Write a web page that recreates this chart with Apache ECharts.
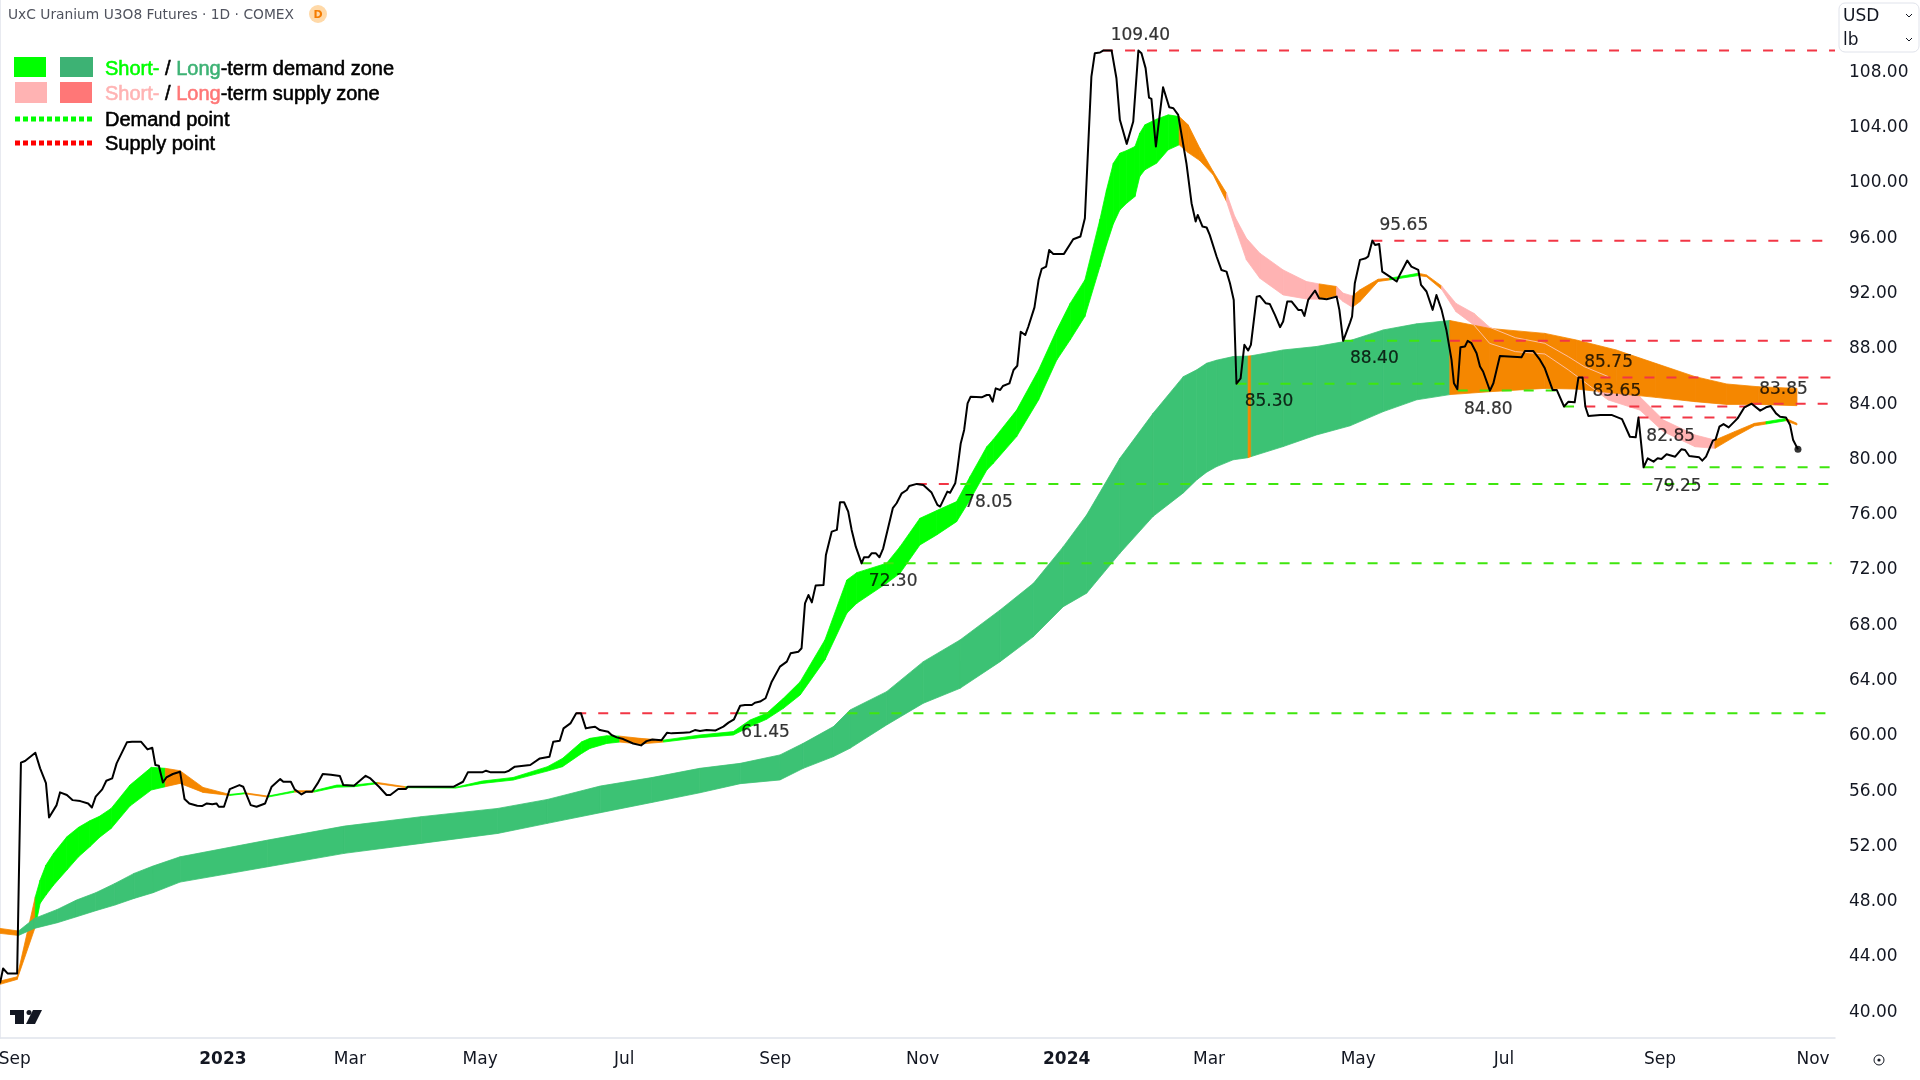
<!DOCTYPE html>
<html><head><meta charset="utf-8">
<style>html,body{margin:0;padding:0;background:#fff}#c{width:1920px;height:1080px}</style>
<script src="https://cdn.jsdelivr.net/npm/echarts@6/dist/echarts.min.js"></script>
</head><body><div id="c"></div>
<script>
// x values are trading-session numbers counted from the left edge of the chart
const axisSessions = [4.3,65,102,140,182,226,269,311,352.5,396,438.5,484,528.6];
const axisMonths = ['Sep','2023','Mar','May','Jul','Sep','Nov','2024','Mar','May','Jul','Sep','Nov'];
const priceTicks = [40,44,48,52,56,60,64,68,72,76,80,84,88,92,96,100,104,108];

const priceSession = [0,.9,2.2,5,6.1,7.3,10.3,11.7,13.4,14.3,16.5,17.5,19.5,21.2,23.4,25.7,26.8,27.9,29.8,31,32.7,34,37,38.5,41.1,43,44.4,45.3,46.3,47.5,48.5,50.4,52.5,53.8,55.2,57.5,58.9,60.3,61.9,63.1,63.8,65.3,67,69.8,70.9,73.1,74.8,77.3,79.2,81.7,82.6,84.8,85.9,87.9,89.3,91,92.6,94.1,96.5,99.1,100.1,103.2,106.6,108,110.5,112.7,113.8,116.1,118.3,118.9,132.3,135,136.4,140.6,141.7,143.1,147.1,148.4,150.1,154.6,157.4,160.2,161.3,163.2,164.3,166.3,168,169.4,170.8,172,173.5,174.9,177.3,178.3,179.8,181.7,184.6,186.9,188.5,190.2,192.9,194.5,195.8,199.2,201.2,202.6,204.1,206,208.5,210.9,212.4,214,215.8,217.2,219.2,220.1,221.6,223.2,225,227.4,229.4,230.5,232.8,233.7,234.7,235.7,236.7,237.8,240.1,240.8,242.5,244,244.9,246.1,247.3,248.3,249.5,251.2,251.9,253.2,254.1,255.4,256.4,257.5,260.3,261.4,262.9,264.4,265.1,267.3,269.2,271.6,273.3,274.1,276.2,277,278.5,279.1,280.1,281.1,282.1,283,286.2,287.7,288.5,289.4,290.3,291.6,292.4,294.3,295.5,296.6,297.6,298.9,299.8,301.6,302.8,303.7,305,305.9,307.1,310.2,312.9,315,316.3,318.2,319.2,320.7,321.6,324.1,325.5,326.5,328.5,330.4,331.9,332.8,334,335,335.7,337,339.1,340.9,342.1,343.5,345.9,347.4,348.6,349.2,350.6,351.8,352.7,354.7,356.1,357.6,358.6,359.7,360.5,361.7,362.8,363.9,364.7,366.4,367.3,369,370.2,371.7,373.2,374.1,375.3,376.6,378.5,379.5,380.3,381.4,383.4,384.6,386.8,389.7,390.5,391.6,393.6,394.2,395,396.5,398.2,398.9,400.1,400.9,402.1,403,405.2,407.2,408.1,410.3,411.5,413.5,414.3,415.9,417.7,418.8,420.3,421.7,423.2,423.9,424.9,425.8,427.1,427.9,429,430.5,431.5,432.4,434.4,435.4,437.3,443.6,444.6,447,449,450.4,452.7,453.9,456,457.3,459.1,460.2,461.4,462.2,463.1,466.6,470,472.9,475.2,476.9,477.7,479.2,480.4,482.1,483.3,484.4,485.9,488.4,490.2,491.3,492.5,495.4,496.3,497.4,499.4,500.2,501.3,502.5,504,506.6,508.6,510.7,513.2,514.9,516.3,517.8,519,520.7,521.9,522.8,524.2];
const priceValue = [41.91,42.99,42.63,42.63,57.88,58,58.6,57.47,56.4,53.92,54.81,55.73,55.54,55.17,55.1,54.93,54.64,55.42,55.95,56.57,56.74,57.83,59.35,59.4,59.4,58.84,58.96,57.71,57.66,56.45,56.81,57.06,57.22,55.25,54.93,54.76,54.74,54.93,54.88,54.93,54.69,54.69,55.97,56.26,56.14,54.81,54.69,54.93,56.14,56.69,56.5,56.5,55.95,55.58,55.78,55.78,56.38,57.06,57.01,56.91,56.26,56.21,56.93,56.74,56.14,55.54,55.54,55.97,55.97,56.14,56.14,56.5,57.18,57.18,57.3,57.18,57.18,57.3,57.59,57.71,58.19,58.31,59.39,59.47,60.36,60.72,61.45,61.45,60.36,60.43,60.48,60.24,60.12,59.88,59.71,59.59,59.27,59.13,59.44,59.56,59.51,60.05,60,60.05,60.09,60.24,60.17,60.24,60.2,60.49,60.78,61.02,62,62.05,62.05,62.22,62.3,62.54,63.74,64.83,65.19,65.79,65.91,66.16,69.41,70.01,69.48,70.69,70.74,72.91,74.6,74.72,76.72,76.72,76.04,74.72,73.51,72.3,72.74,72.74,73.03,73.03,72.74,73.39,76.29,76.65,77.37,77.61,77.9,78.05,77.97,77.42,76.53,76.41,77.49,77.41,78.09,79.05,80.98,81.95,83.88,84.36,84.31,84.48,84.48,84,84.96,84.84,85.13,85.32,86.29,86.6,89.06,88.82,89.42,90.82,92.8,93.6,93.77,94.97,94.69,94.69,95.75,95.95,97.27,107.52,109.21,109.26,109.4,109.4,107.4,104.39,102.65,104.27,109.4,109.21,108.13,106,105.91,102.46,106.75,105.3,105.23,104.75,101.25,98.36,97.03,97.51,96.67,96.6,96.07,94.5,93.53,93.41,92.57,91.36,85.3,85.69,88.11,87.7,88.11,91.6,91.65,91.12,91.07,90.28,89.39,89.8,91.24,91.24,90.64,90.64,90.2,91.36,92.04,91.48,91.41,91.6,90.64,88.4,89.72,90.16,92.57,94.26,94.38,94.5,95.65,95.34,95.41,93.41,93.05,92.69,93.17,94.21,93.77,93.53,92.45,91.97,90.64,91.72,90.64,89.19,87.02,85.33,84.9,87.94,87.99,88.4,88.23,87.5,86.54,86.18,84.8,85.33,87.31,87.21,87.67,87.67,87.02,86.41,84.84,84.84,83.65,84,83.95,85.75,85.75,83.65,82.96,83.03,83.03,82.74,81.46,81.42,82.85,79.25,79.9,79.66,79.9,79.85,80.19,80.02,80.55,80.5,80.07,79.97,79.73,80.02,81.18,81.27,82.19,82.38,82.14,82.79,83.59,83.85,83.35,83.59,83.68,83.15,82.91,82.86,82.31,81.22,80.55];

// short-term zone edges
const shortSession = [0,5,10.3,11.7,13.4,15.6,19.5,22.9,26.2,29,32.4,37.9,44.1,48.2,52.5,59.2,67,71.4,78.1,85.9,87,91.5,98.2,103.2,110,118.3,132.8,140.6,149.6,159.6,164,169.6,172,176.9,180.7,186.6,193.4,204,213.8,218.7,223.5,228.4,233.3,240.5,246.9,249.8,258.5,262.4,268.2,273.1,278.9,282.8,287.7,289.6,296.4,302.8,308.1,312,316.3,320.7,322.6,324.6,326.5,328.5,330.9,332.3,333.8,337.2,340.6,343.8,346.4,349.8,353.7,357.6,360,363.4,367.3,374.1,380.9,384.6,389.7,391.6,394.3,396.5,401.8,405.2,413.5,415.9,420.3,424.5,429.7,434.3,441.8,450.4,457.3,461.9,468.9,478.1,485,494.2,500,505.7,511.5,514.9,520.7,523.9];
const shortUpper = [42.08,42.39,48.18,49.39,50.47,51.31,52.52,53.2,53.68,54,54.57,56.26,57.54,57.47,57.3,56.09,55.58,55.7,55.46,55.85,55.85,55.85,56.26,56.26,56.45,56.14,56.1,56.55,56.81,57.59,58.19,59.39,59.64,59.83,59.8,59.64,59.51,59.88,60.13,60.97,61.45,62.54,63.74,66.76,71.1,71.63,72.31,73.51,75.56,76.12,76.77,78.57,80.74,81.27,83.39,86.29,89.18,91.11,92.81,97.2,99.32,101.25,101.98,102.17,102.46,103.42,104.03,104.44,104.75,104.63,104.03,102.34,100.65,99.08,97.39,95.82,94.74,93.53,92.69,92.52,92.33,91.85,91.65,92.09,92.86,92.93,93.29,93.17,92.37,91.11,90.39,89.38,88.63,88.22,87.25,86.53,85.81,84.36,82.67,81.59,81.22,81.83,82.43,82.55,82.79,82.43];
const shortLower = [41.84,42.2,46,47.7,48.3,49.02,50.11,51.07,51.8,52.47,53.12,54.74,55.9,56.14,56.38,55.73,55.51,55.63,55.39,55.75,55.75,55.75,56.11,56.14,56.36,56.07,56.04,56.38,56.62,57.27,57.59,58.55,58.91,59.27,59.37,59.23,59.37,59.69,59.88,60.49,61.02,61.81,62.78,65.31,68.69,69.41,70.86,71.58,73.63,74.36,75.32,76.88,79.05,79.54,81.47,84.12,87.01,88.46,90.16,93.77,95.34,96.86,97.87,98.36,98.84,100.29,100.77,101.25,102.22,102.58,102.02,101.44,100.41,98.48,96.67,94.26,92.93,91.72,91.43,91.41,91.65,91.24,90.83,91.24,92.69,92.81,93.12,93.04,92.13,90.51,89.55,88.22,87.62,87.45,86.29,85.44,84.12,83.39,81.83,80.74,80.62,81.46,82.24,82.38,82.62,82.31];
// state of the short-term zone from each session on: d demand, n neutral, s supply
const shortRunFrom = [0,10.3,48.2,67,71.4,78.1,85.9,91.5,110,118.3,180.7,193.4,343.8,357.6,384.6,389.7,394.3,405.2,413.5,420.3,500,514.9,520.7];
const shortRunState = ['n','d','n','d','n','d','n','d','n','d','n','d','n','s','n','s','n','d','n','s','n','d','n'];

// long-term zone edges
const longSession = [0,5.4,10,16.7,22.3,27.9,33.5,39.1,44.6,52.5,78.1,100.4,122.8,145.1,159.6,175,190,204,215.8,227.4,234.2,243,247.8,258.5,269.2,279.9,291.6,301.3,310,316.8,326.5,336.2,345,348.9,351.8,354.7,359.5,363.9,364.8,374.1,383.8,393.6,403.3,413,422.7,434.3,450.4,459.6,471.2,482.7,494.2,503.4,512.6,523.9];
const longUpper = [45.89,45.7,46.61,47.26,47.94,48.47,49.14,49.87,50.4,51.07,52.28,53.29,53.97,54.57,55.22,56.19,56.8,57.47,57.83,58.44,59.28,60.49,61.69,63.02,65.19,66.76,68.93,70.86,73.51,75.8,79.9,83.16,85.81,86.3,86.78,87,87.26,87.3,87.32,87.74,87.99,88.42,89.19,89.63,89.87,89.3,88.94,88.46,87.74,86.77,85.81,85.28,85.08,84.96];
const longLower = [45.53,45.38,45.89,46.3,46.73,47.17,47.58,48.06,48.47,49.24,50.35,51.32,52.04,52.76,53.49,54.26,55,55.7,56.36,56.63,57.47,58.32,58.92,60.61,62.18,63.26,65.19,67,69.17,70.14,73.03,75.7,77.4,78.34,78.9,79.3,79.79,79.95,80.03,80.75,81.59,82.25,83.28,84.13,84.51,84.72,84.96,84.91,84.6,84.31,84,83.8,83.8,83.71];
const longRunFrom = [0,5.4,363.9,364.8,422.7];
const longRunState = ['n','d','n','d','n'];

// supply and demand levels: kind, price, first and last session
const levelKind = ['s','s','d','s','d','d','s','d','s','s','s','d','s','d','d','s','d'];
const levelPrice = [109.4,95.65,88.4,88.4,85.3,84.8,85.75,83.65,83.65,83.85,82.85,79.25,78.05,78.05,72.3,61.45,61.45];
const levelFrom = [321.6,400.1,391.6,422.7,360.5,425,460.2,456,462.2,510.7,477.7,479.2,267.3,280,251.2,168,215];
const levelTo = [535,534,422.7,534,422,454,534,462.2,509.2,534,507,534,280,534,534,215,534];

// annotated pivots: text and where it sits
const pivotText = ['109.40','95.65','88.40','85.75','85.30','84.80','83.85','83.65','82.85','79.25','78.05','72.30','61.45'];
const pivotSession = [332.5,409.3,400.7,469,370,433.9,520,471.4,487.1,489,288.2,260.4,223.2];
const pivotPrice = [110.47,96.74,87.09,86.82,83.99,83.45,84.87,84.7,81.5,77.87,76.72,70.97,60.07];

const ink='#131722', C={green:'#00ff00',deep:'#3cc274',orange:'#f58700',pink:'#ffb3b3'};
const shortColor={d:C.green,n:C.orange,s:C.pink}, longColor={d:C.deep,n:C.orange};
const stateAt=(x,from,state)=>{let k=0;from.forEach((f,i)=>{if(x>=f)k=i;});return state[k];};
const band=(xs,hi,lo)=>xs.slice(0,-1).map((x,i)=>[x,hi[i],lo[i],xs[i+1],hi[i+1],lo[i+1]]);
const bandSeries=(name,xs,hi,lo,from,state,colors)=>({
  name,type:'custom',silent:true,animation:false,
  encode:{x:[0,3],y:[1,2,4,5]},
  data:band(xs,hi,lo),
  renderItem(p,api){
    const P=(a,b)=>api.coord([api.value(a),api.value(b)]);
    const col=colors[stateAt(api.value(0),from,state)];
    return {type:'polygon',shape:{points:[P(0,1),P(3,4),P(3,5),P(0,2)]},style:{fill:col,stroke:col,lineWidth:.8}};
  }
});
const inOverlap=(x)=>x>=429.7&&x<=468.9;
const paleEdge=(vals)=>({type:'line',silent:true,animation:false,symbol:'none',z:3,
  data:shortSession.map((x,i)=>[x,vals[i]]).filter(d=>inOverlap(d[0])),
  lineStyle:{color:'#ffc4b0',width:1,opacity:.9}});
const levelSeries=levelPrice.map((v,i)=>({type:'line',silent:true,animation:false,symbol:'none',z:4,
  data:[[levelFrom[i],v],[levelTo[i],v]],
  lineStyle:{color:levelKind[i]==='s'?'#f23645':'#3fe60e',width:2,type:[10,12]}}));

const legFont='20px "Liberation Sans"';
const T=(x,y,text,extra)=>({type:'text',x,y,style:Object.assign({text,fill:'#000',stroke:'#000',lineWidth:.55,font:legFont,verticalAlign:'middle'},extra||{})});
const R=(x,y,w,h,fill)=>({type:'rect',shape:{x,y,width:w,height:h},style:{fill}});
const dots=(y,col)=>({type:'line',shape:{x1:15,y1:y,x2:93,y2:y},style:{stroke:col,lineWidth:5,lineDash:[5,3]}});
const tok=(c)=>({fill:c,stroke:c,lineWidth:.55,font:legFont});
const plain={stroke:null,lineWidth:0};
const graphics=[
  T(8,15,'UxC Uranium U3O8 Futures · 1D · COMEX',{...plain,font:'13.8px "DejaVu Sans"',fill:'#50535e'}),
  {type:'circle',shape:{cx:318,cy:14,r:9},style:{fill:'#ffd9a8'}},
  T(318,15,'D',{...plain,font:'bold 11px "DejaVu Sans"',fill:'#f57c00',align:'center'}),
  R(14,57,32,20,'#00ff00'),R(60,57,33,20,'#3db274'),
  R(15,82,32,21,'#ffb3b3'),R(60,82,32,21,'#ff7777'),
  dots(119,'#00ff00'),dots(143,'#ff0000'),
  T(105,69,'{a|Short-}{k| / }{b|Long}{k|-term demand zone}',{rich:{a:tok('#00ff00'),b:tok('#3db274'),k:tok('#000')}}),
  T(105,94,'{a|Short-}{k| / }{b|Long}{k|-term supply zone}',{rich:{a:tok('#ffb3b3'),b:tok('#ff7777'),k:tok('#000')}}),
  T(105,120,'Demand point'),
  T(105,144,'Supply point'),
  {type:'rect',shape:{x:1839,y:3,width:80,height:49,r:6},style:{fill:'#fff',stroke:'#e0e3eb',lineWidth:1}},
  T(1843,17,'USD',{...plain,font:'17px "DejaVu Sans"',fill:ink}),
  T(1843,41,'lb',{...plain,font:'17px "DejaVu Sans"',fill:ink}),
  {type:'polyline',shape:{points:[[1906,14],[1909,17],[1912,14]]},style:{stroke:ink,lineWidth:1,fill:null}},
  {type:'polyline',shape:{points:[[1906,38],[1909,41],[1912,38]]},style:{stroke:ink,lineWidth:1,fill:null}},
  R(10,1010,14,5,'#131722'),R(15,1015,9,9,'#131722'),
  {type:'circle',shape:{cx:29,cy:1012.5,r:2.5},style:{fill:'#131722'}},
  {type:'polygon',shape:{points:[[33,1010],[42,1010],[35,1024],[26,1024]]},style:{fill:'#131722'}},
  {type:'circle',shape:{cx:1879,cy:1060,r:5},style:{fill:'none',stroke:'#131722',lineWidth:1}},
  {type:'circle',shape:{cx:1879,cy:1060,r:1.6},style:{fill:'#131722'}}
];

const chart=echarts.init(document.getElementById('c'),null,{renderer:'canvas',width:1920,height:1080});
chart.setOption({
  animation:false,backgroundColor:'#fff',
  grid:{left:0,right:85,top:0,bottom:42,containLabel:false,outerBoundsMode:'none'},
  xAxis:{type:'value',min:0,max:535,splitLine:{show:false},
    axisLine:{show:true,lineStyle:{color:'#e0e3eb',width:1.5}},axisTick:{show:false},
    axisLabel:{customValues:axisSessions,margin:13,fontSize:17,fontFamily:'"DejaVu Sans"',color:ink,
      formatter:(v)=>{const t=axisMonths[axisSessions.indexOf(v)];return /^\d/.test(t)?'{b|'+t+'}':t;},
      rich:{b:{fontWeight:'bold',fontSize:17,fontFamily:'"DejaVu Sans"',color:ink}},
      showMinLabel:true,showMaxLabel:true,hideOverlap:false}},
  yAxis:{type:'value',position:'right',min:37.96,max:113.06,splitLine:{show:false},
    axisLine:{show:true,lineStyle:{color:'#e0e3eb',width:1.5}},axisTick:{show:false},
    axisLabel:{customValues:priceTicks,margin:14,fontSize:17,fontFamily:'"DejaVu Sans"',color:ink,verticalAlign:'top',lineHeight:5,
      formatter:(v)=>v.toFixed(2),showMinLabel:true,showMaxLabel:true}},
  graphic:{elements:graphics},
  series:[
    bandSeries('Short-term zone',shortSession,shortUpper,shortLower,shortRunFrom,shortRunState,shortColor),
    bandSeries('Long-term zone',longSession,longUpper,longLower,longRunFrom,longRunState,longColor),
    paleEdge(shortUpper),paleEdge(shortLower),
    ...levelSeries,
    {name:'Close',type:'line',silent:true,animation:false,symbol:'none',z:5,
      data:priceSession.map((x,i)=>[x,priceValue[i]]),
      lineStyle:{color:'#000',width:2,join:'round'}},
    {name:'Last',type:'scatter',silent:true,animation:false,z:6,symbolSize:7,
      data:[[priceSession[priceSession.length-1],priceValue[priceValue.length-1]]],itemStyle:{color:'#000'}},
    {name:'Pivots',type:'scatter',silent:true,animation:false,z:7,symbolSize:1,
      itemStyle:{color:'rgba(0,0,0,0)'},
      data:pivotText.map((t,i)=>({name:t,value:[pivotSession[i],pivotPrice[i]]})),
      label:{show:true,position:'inside',formatter:'{b}',color:'#000',fontSize:17,fontFamily:'"DejaVu Sans"',textBorderColor:'#000',textBorderWidth:.2},
      labelLayout:{hideOverlap:false}}
  ]
});
</script></body></html>
